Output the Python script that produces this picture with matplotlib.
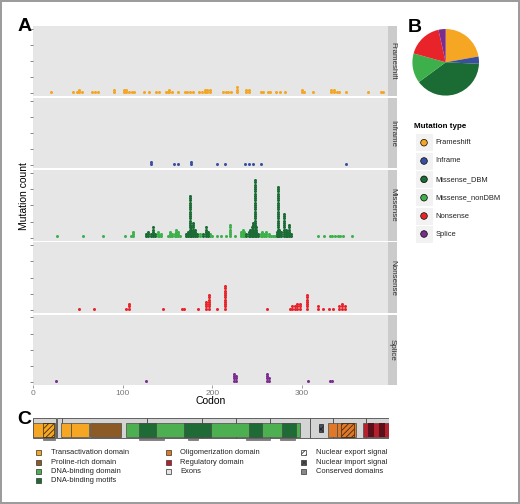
import matplotlib
matplotlib.use('Agg')
import matplotlib.pyplot as plt
from matplotlib.patches import Rectangle, Circle
import numpy as np

plt.rcParams['font.family'] = ['Liberation Sans', 'DejaVu Sans']
plt.rcParams['hatch.linewidth'] = 0.6

W, H = 520, 504

# ---------------- data ----------------
facet_names = ["Frameshift", "Inframe", "Missense", "Nonsense", "Splice"]
type_names = ["Frameshift", "Inframe", "Missense_DBM", "Missense_nonDBM", "Nonsense", "Splice"]
type_colors = ["#F5A623", "#3A4FA0", "#1B6B35", "#3DB04B", "#E8232A", "#7B2D8E"]

frameshift_codons = [20, 44, 49, 51, 54, 66, 69, 72, 90, 101, 104, 107, 110, 113, 124, 129, 137, 141,
                     148, 150, 152, 155, 162, 169, 172, 175, 178, 185, 189, 192, 194, 197, 212, 215,
                     218, 221, 228, 238, 241, 254, 257, 262, 265, 271, 276, 281, 300, 303, 313, 333,
                     336, 339, 342, 349, 374, 388, 391]
frameshift_counts = [1, 1, 1, 2, 1, 1, 1, 1, 2, 2, 2, 1, 1, 1, 1, 1, 1, 1,
                     1, 1, 2, 1, 1, 1, 1, 1, 1, 1, 1, 2, 2, 2, 1, 1,
                     1, 1, 3, 2, 2, 1, 1, 1, 1, 1, 1, 1, 2, 1, 1, 2,
                     2, 1, 1, 1, 1, 1, 1]

inframe_codons = [131, 157, 162, 176, 205, 214, 237, 241, 245, 255, 349]
inframe_counts = [2, 1, 1, 2, 1, 1, 1, 1, 1, 1, 1]

missense_dbm_codons = [126, 128, 132, 134, 136, 171, 173, 175, 176, 179, 181, 183, 190, 193, 195,
                       238, 241, 242, 244, 245, 248, 249, 251, 272, 273, 275, 277, 280, 282, 284,
                       286, 288]
missense_dbm_counts = [2, 3, 2, 5, 2, 2, 3, 19, 5, 7, 4, 2, 2, 5, 3,
                       2, 3, 4, 5, 7, 26, 5, 2, 3, 23, 4, 3, 11, 4, 3,
                       6, 2]

missense_nondbm_codons = [27, 55, 78, 103, 109, 111, 139, 141, 143, 151, 153, 155, 158, 160, 162,
                          164, 186, 197, 200, 205, 210, 215, 220, 225, 232, 234, 236, 254, 256,
                          258, 260, 263, 266, 268, 270, 318, 325, 331, 334, 337, 340, 343, 346, 356]
missense_nondbm_counts = [1, 1, 1, 1, 1, 3, 3, 1, 2, 1, 3, 2, 2, 4, 3,
                          1, 2, 2, 1, 1, 1, 1, 6, 1, 3, 4, 3, 2, 3,
                          2, 3, 2, 1, 1, 1, 1, 1, 1, 1, 1, 1, 1, 1, 1]

nonsense_codons = [51, 68, 104, 107, 145, 166, 168, 184, 193, 196, 205, 214, 261, 287, 289, 292,
                   295, 298, 306, 318, 324, 330, 335, 342, 345, 348]
nonsense_counts = [1, 1, 1, 3, 1, 1, 1, 1, 4, 7, 1, 11, 1, 1, 2, 2,
                   3, 3, 7, 2, 1, 1, 1, 2, 3, 2]

splice_codons = [25, 126, 224, 226, 261, 263, 307, 332, 334]
splice_counts = [1, 1, 4, 3, 4, 2, 1, 1, 1]

pie_shares = [22.2, 3.5, 39.2, 14.4, 17.2, 3.5]

x_ticks = [0, 100, 200, 300]
x_max = 396.7

# panel C annotation (codons)
exons = [(0, 25), (26, 32), (32, 125), (125, 186), (186, 224), (224, 261), (261, 306),
         (306, 331), (331, 367), (367, 393)]
transactivation = [(0, 24), (31, 42), (42, 61)]
proline_rich = [(63, 97)]
dna_binding = [(102, 294)]
dna_motifs = [(117, 136), (166, 196), (238, 253), (274, 290)]
oligomerization = [(325, 335), (335, 356)]
regulatory = [(364, 393)]
regulatory_dark = [(370, 376), (382, 388)]
export_signal = [(11, 23), (340, 354)]
import_signal = [(315, 320)]
conserved = [(11, 24), (117, 144), (171, 182), (235, 261), (272, 289)]

# ---------------- figure ----------------
fig = plt.figure(figsize=(5.2, 5.04), dpi=100)


def fx(x):
    return x / W


def fy(y):
    return 1 - y / H


panel_left, panel_right = 33.3, 388.3
panel_h, gap = 70.5, 1.7
top0 = 25.7
strip_w = 8.4

series_by_facet = {
    "Frameshift": [(frameshift_codons, frameshift_counts, type_colors[0])],
    "Inframe": [(inframe_codons, inframe_counts, type_colors[1])],
    "Missense": [(missense_nondbm_codons, missense_nondbm_counts, type_colors[3]),
                 (missense_dbm_codons, missense_dbm_counts, type_colors[2])],
    "Nonsense": [(nonsense_codons, nonsense_counts, type_colors[4])],
    "Splice": [(splice_codons, splice_counts, type_colors[5])],
}

ylo, yhi = -0.045, 1.045
px_per_unit = panel_h / (yhi - ylo)
step = 2.25 / px_per_unit

for i, name in enumerate(facet_names):
    top = top0 + i * (panel_h + gap)
    ax = fig.add_axes([fx(panel_left), fy(top + panel_h), (panel_right - panel_left) / W, panel_h / H])
    ax.set_facecolor("#E6E6E6")
    for sp in ax.spines.values():
        sp.set_visible(False)
    ax.set_xlim(0, x_max)
    ax.set_ylim(ylo, yhi)
    ax.set_yticks([0, 0.25, 0.5, 0.75, 1.0])
    ax.set_yticklabels([])
    ax.tick_params(axis='y', length=2, width=0.5, color="#555555")
    for codons, counts, col in series_by_facet[name]:
        xs, ys = [], []
        for c, n in zip(codons, counts):
            xs.extend([c] * n)
            ys.extend(step * 0.6 + step * np.arange(n))
        ax.scatter(xs, ys, s=4.8, color=col, linewidths=0, zorder=3)
    if i == len(facet_names) - 1:
        ax.set_xticks(x_ticks)
        ax.set_xticklabels([str(t) for t in x_ticks], fontsize=6, color="#777777")
        ax.tick_params(axis='x', length=2, width=0.5, color="#777777", pad=1.5)
    else:
        ax.set_xticks([])
    # strip
    sax = fig.add_axes([fx(panel_right), fy(top + panel_h), strip_w / W, panel_h / H])
    sax.set_facecolor("#CBCBCB")
    sax.set_xticks([])
    sax.set_yticks([])
    for sp in sax.spines.values():
        sp.set_visible(False)
    sax.text(0.5, 0.5, name, rotation=-90, ha='center', va='center', fontsize=5.8,
             color="#333333", transform=sax.transAxes)

# ---------------- pie ----------------
pcx, pcy, pr = 445.7, 62.3, 33.3
pax = fig.add_axes([fx(pcx - pr), fy(pcy + pr), 2 * pr / W, 2 * pr / H])
pax.pie(pie_shares, colors=type_colors, startangle=90, counterclock=False, radius=1,
        wedgeprops=dict(linewidth=0))
pax.set_xlim(-1, 1)
pax.set_ylim(-1, 1)

# ---------------- overlay text ----------------
ov = fig.add_axes([0, 0, 1, 1], facecolor='none')
ov.set_xlim(0, W)
ov.set_ylim(H, 0)
ov.axis('off')

ov.text(25, 26.5, "A", fontsize=14, fontweight='bold', ha='center', va='center')
ov.text(415, 27, "B", fontsize=14, fontweight='bold', ha='center', va='center')
ov.text(24, 420, "C", fontsize=14, fontweight='bold', ha='center', va='center')
ov.text(24, 196, "Mutation count", rotation=90, fontsize=7.5, ha='center', va='center')
ov.text(211, 401.5, "Codon", fontsize=7.5, ha='center', va='center')

# legend for B
ov.text(414.5, 126, "Mutation type", fontsize=5.8, fontweight='bold', ha='left', va='center')
leg_y = [142.7, 161.0, 179.3, 197.7, 216.0, 234.0]
for yy, nm, col in zip(leg_y, type_names, type_colors):
    ov.add_patch(Rectangle((415.5, yy - 8.5), 17, 17, facecolor="#F2F2F2", edgecolor='none'))
    ov.add_patch(Circle((424, yy), 3.3, facecolor=col, edgecolor='black', linewidth=0.5))
    ov.text(435.7, yy, nm, fontsize=5.4, ha='left', va='center', color="#222222")

# ---------------- panel C ----------------
cax = fig.add_axes([fx(33.3), fy(442), (389.3 - 33.3) / W, (442 - 414) / H], facecolor='none')
cax.set_xlim(0, 393)
cax.set_ylim(442, 414)
cax.axis('off')

edge = "#4A4A4A"
for a, b in exons:
    cax.add_patch(Rectangle((a, 418), b - a, 20, facecolor="#D4D4D4", edgecolor=edge, linewidth=0.6))


def dom(ranges, color, hatch=None, y0=422.5, hh=14, ec=edge, lw=0.5):
    for a, b in ranges:
        cax.add_patch(Rectangle((a, y0), b - a, hh, facecolor=color, edgecolor=ec,
                                linewidth=lw, hatch=hatch))


dom(transactivation, "#F5A623")
dom(proline_rich, "#8C5A24")
dom(dna_binding, "#4CB050")
dom(dna_motifs, "#1E6B35")
dom(oligomerization, "#E0782A")
dom(regulatory, "#B5202D")
dom(regulatory_dark, "#5B0F1A", lw=0)
dom(export_signal, "none", hatch='//////', ec="#3A2A10")
dom(import_signal, "#4A5060", hatch='xxxx', y0=424, hh=8, ec="#222222")
for a, b in conserved:
    cax.add_patch(Rectangle((a, 437.8), b - a, 2.6, facecolor="#808080", edgecolor="#5A5A5A", linewidth=0.4))

# legend for C
leg_cols = [
    (38.3, 50.7, [("Transactivation domain", "#F5A623", None),
                  ("Proline-rich domain", "#8C5A24", None),
                  ("DNA-binding domain", "#4CB050", None),
                  ("DNA-binding motifs", "#1E6B35", None)]),
    (168.3, 180.3, [("Oligomerization domain", "#E0782A", None),
                    ("Regulatory domain", "#B5202D", None),
                    ("Exons", "#E4E4E4", None)]),
    (303.3, 315.7, [("Nuclear export signal", "white", '//////'),
                    ("Nuclear import signal", "#555555", 'xxxx'),
                    ("Conserved domains", "#888888", None)]),
]
row_y = [452.7, 462.0, 471.3, 480.7]
for xs, xt, items in leg_cols:
    for yy, (lab, col, hat) in zip(row_y, items):
        ov.add_patch(Rectangle((xs - 2.5, yy - 2.5), 5, 5, facecolor=col, edgecolor="#333333",
                               linewidth=0.5, hatch=hat))
        ov.text(xt, yy, lab, fontsize=5.4, ha='left', va='center', color="#222222")

# outer border
ov.add_patch(Rectangle((0.8, 0.8), W - 1.6, H - 1.6, facecolor='none', edgecolor="#9A9A9A", linewidth=1.4))

fig.savefig("out.png", dpi=100)
